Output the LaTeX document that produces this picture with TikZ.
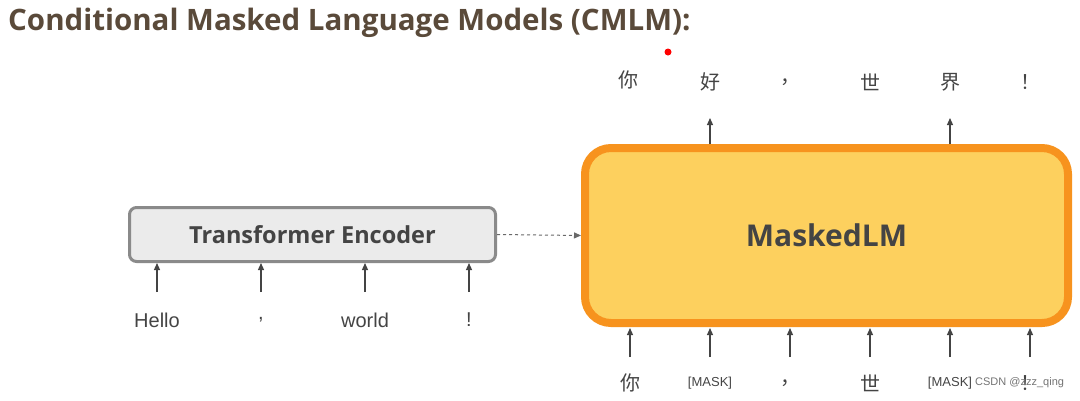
\documentclass[tikz,border=0pt]{standalone}
\usepackage{fontspec}
\setmainfont{Liberation Sans}
\newfontfamily\titlefont{Open Sans}
\newfontfamily\cjk{Noto Sans CJK SC}
\usetikzlibrary{arrows.meta}
\definecolor{titlec}{HTML}{5A4A3A}
\definecolor{txt}{HTML}{444444}
\definecolor{encfill}{HTML}{EBEBEB}
\definecolor{encdraw}{HTML}{8A8A8A}
\definecolor{mlmfill}{HTML}{FDD05E}
\definecolor{mlmdraw}{HTML}{F7931E}
\tikzset{
  up/.style={draw=txt,line width=1.2pt,-{Triangle[length=7pt,width=6pt]}},
  lbl/.style={text=txt,font=\fontsize{20}{22}\selectfont,inner sep=0pt},
  cjkl/.style={text=txt,font=\cjk\fontsize{20}{22}\selectfont,inner sep=0pt},
  mask/.style={text=txt,font=\fontsize{13}{15}\selectfont,inner sep=0pt},
}
\begin{document}
\begin{tikzpicture}[x=1pt,y=-1pt]
\useasboundingbox (0,0) rectangle (1080,400);
\node[anchor=west,text=titlec,font=\titlefont\bfseries\fontsize{29.5}{33}\selectfont,inner sep=0pt] (title) at (8,23) {Conditional Masked Language Models (CMLM):};
\fill[red] (668,52) circle (3.5);
% encoder
\node[draw=encdraw,fill=encfill,line width=3pt,rounded corners=7pt,minimum width=366pt,minimum height=54pt,text=txt,font=\titlefont\bfseries\fontsize{23.5}{26}\selectfont] (enc) at (312.5,234.5) {Transformer Encoder};
\foreach \x/\t/\n in {157/Hello/a,261/{,}/b,365/world/c,469/!/d}{
  \node[lbl] (in\n) at (\x,320) {\t};
  \coordinate (s\n) at (\x,292);
  \coordinate (e\n) at (\x,263);
  \draw[up] (s\n) -- (e\n);
}
% masked LM
\node[draw=mlmdraw,fill=mlmfill,line width=8pt,rounded corners=26pt,minimum width=483pt,minimum height=175pt,text=txt,font=\titlefont\bfseries\fontsize{30}{34}\selectfont] (mlm) at (826.5,235.5) {MaskedLM};
\draw[draw=txt!80,line width=1pt,dashed,-{Triangle[length=7pt,width=6pt]}] (enc.east) -- (mlm.west);
% bottom inputs
\node[cjkl] (b1) at (630,383) {你};
\node[mask] (b2) at (710,383) {[MASK]};
\node[cjkl] (b3) at (790,383) {，};
\node[cjkl] (b4) at (870,383) {世};
\node[mask] (b5) at (950,383) {[MASK]};
\node[cjkl] (b6) at (1030,383) {！};
\foreach \x/\n in {630/1,710/2,790/3,870/4,950/5,1030/6}{
  \coordinate (bs\n) at (\x,357);
  \coordinate (be\n) at (\x,328);
  \draw[up] (bs\n) -- (be\n);
}
% top outputs
\node[cjkl] (t1) at (628,80) {你};
\node[cjkl] (t2) at (710,82) {好};
\node[cjkl] (t3) at (790,82) {，};
\node[cjkl] (t4) at (870,82) {世};
\node[cjkl] (t5) at (950,82) {界};
\node[cjkl] (t6) at (1030,82) {！};
\draw[up] (mlm.north -| t2) -- ++(0,-26);
\draw[up] (mlm.north -| t5) -- ++(0,-26);
\node[anchor=west,text=black!55,font=\fontsize{11}{13}\selectfont,inner sep=0pt] (wm) at (975,383) {CSDN @zzz\_qing};
\end{tikzpicture}
\end{document}
